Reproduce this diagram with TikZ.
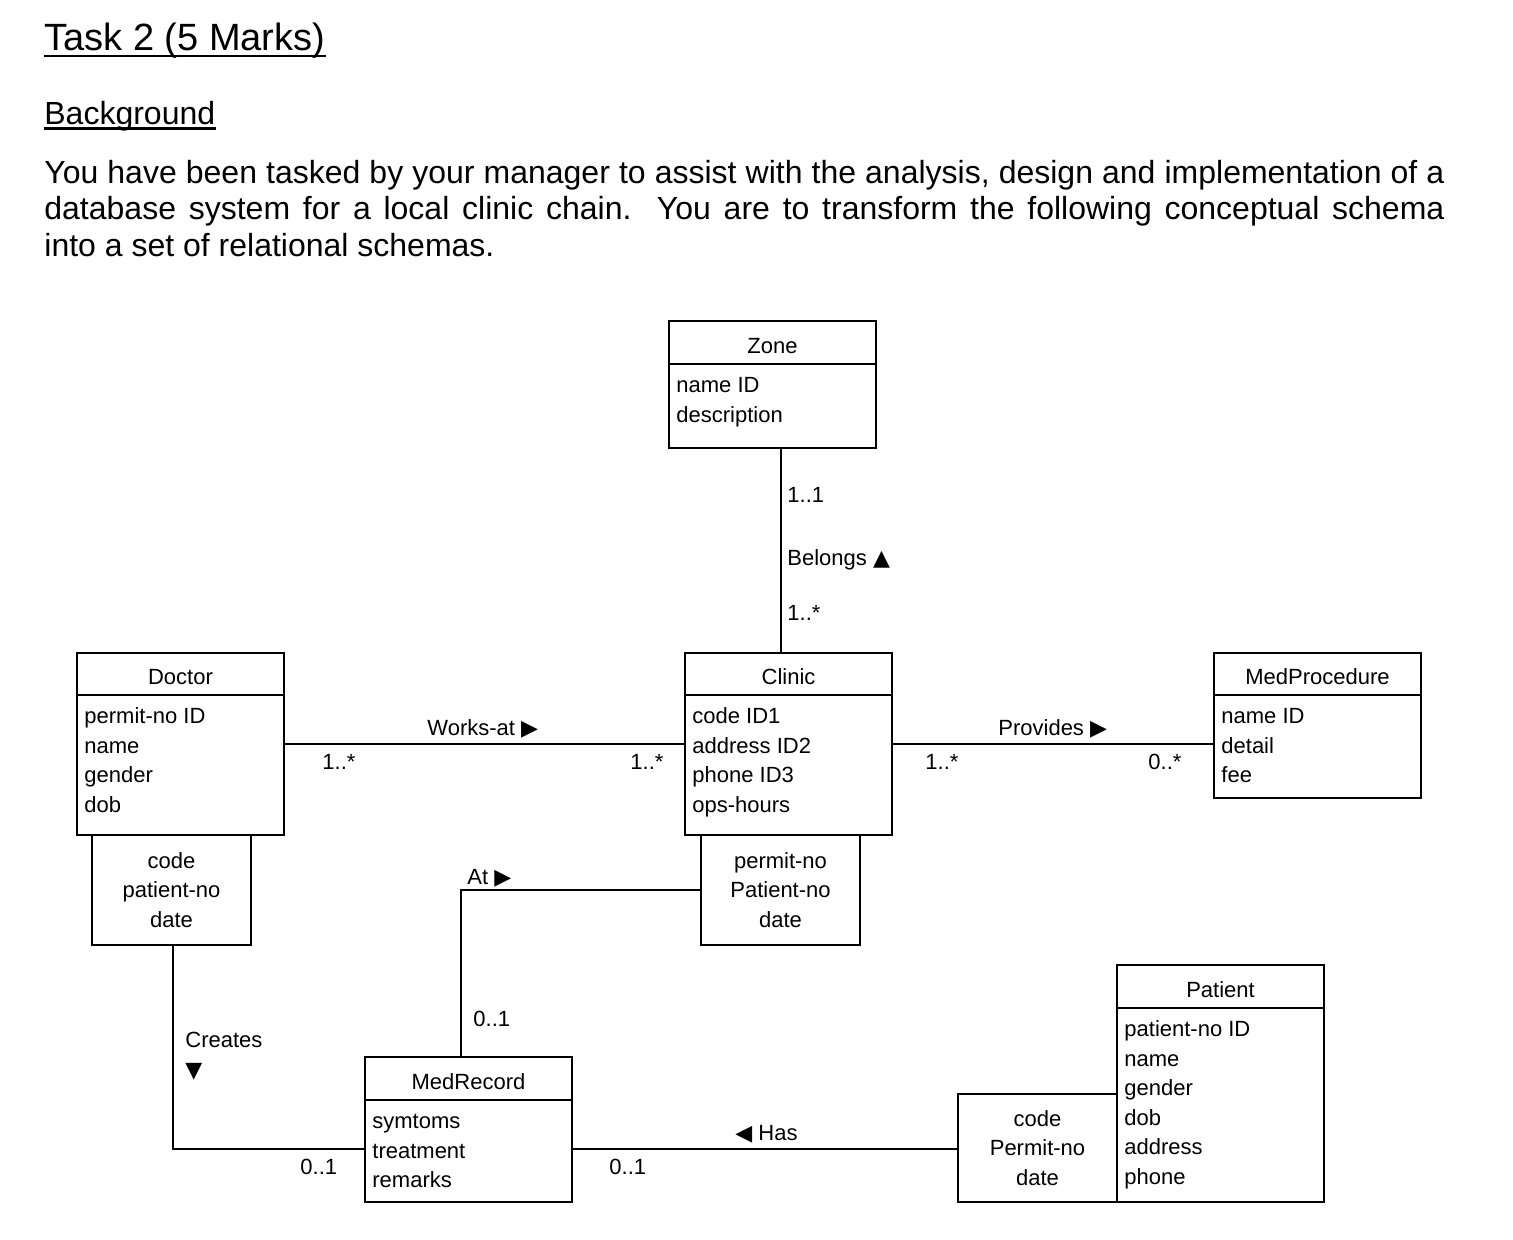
\documentclass[tikz,border=0pt]{standalone}
\usepackage{fontspec}
\setmainfont{Liberation Sans}
\newfontfamily\symf{DejaVu Sans}
\begin{document}
\begin{tikzpicture}[x=0.5pt,y=-0.5pt,
  box/.style={draw, line width=0.8pt, anchor=north west, inner sep=0pt, outer sep=0pt},
  dtext/.style={font=\fontsize{11}{14.8}\selectfont, inner sep=0pt},
  attrs/.style={dtext, align=left, anchor=north west},
  ttl/.style={dtext, anchor=base},
  lbl/.style={dtext, anchor=base west},
  assoc/.style={box, dtext, align=center},
  conn/.style={line width=0.75pt},
  divider/.style={line width=0.8pt}
]
\useasboundingbox (0,0) rectangle (1513,1239);

% ---------- header text ----------
\node[font=\fontsize{19}{22}\selectfont, inner sep=0pt, anchor=base west] (title) at (44,50) {Task 2 (5 Marks)};
\draw[line width=1.2pt] ([yshift=-3pt]title.base west) -- ([yshift=-3pt]title.base east);
\node[font=\fontsize{16}{18.25}\selectfont, inner sep=0pt, anchor=base west] (bg) at (44,124) {Background};
\draw[line width=1.1pt] ([yshift=-2.2pt]bg.base west) -- ([yshift=-2.2pt]bg.base east);
\node[font=\fontsize{16}{18.25}\selectfont, inner sep=0pt, anchor=north west, text width=700pt, align=justify] (body) at (44,157.5)
 {\strut You have been tasked by your manager to assist with the analysis, design and implementation of a\linebreak
  database system for a local clinic chain.\ \ You are to transform the following conceptual schema\linebreak
  into a set of relational schemas.};

% ---------- class boxes ----------
\node[box, minimum width=103.5pt, minimum height=63.5pt] (zone) at (669,321) {};
\draw[divider] ([yshift=-21.5pt]zone.north west) -- ([yshift=-21.5pt]zone.north east);
\node[ttl] (zonet) at (772.5,353) {Zone};
\node[attrs] (zonea) at (676,371.3) {\strut name ID\\description};

\node[box, minimum width=103.5pt, minimum height=91pt] (doctor) at (77,653) {};
\draw[divider] ([yshift=-21pt]doctor.north west) -- ([yshift=-21pt]doctor.north east);
\node[ttl] (doctort) at (180.5,684) {Doctor};
\node[attrs] (doctora) at (84,702.3) {\strut permit-no ID\\name\\gender\\dob};

\node[box, minimum width=103.5pt, minimum height=91pt] (clinic) at (685,653) {};
\draw[divider] ([yshift=-21pt]clinic.north west) -- ([yshift=-21pt]clinic.north east);
\node[ttl] (clinict) at (788.5,684) {Clinic};
\node[attrs] (clinica) at (692,702.3) {\strut code ID1\\address ID2\\phone ID3\\ops-hours};

\node[box, minimum width=103.5pt, minimum height=72.5pt] (medproc) at (1214,653) {};
\draw[divider] ([yshift=-21pt]medproc.north west) -- ([yshift=-21pt]medproc.north east);
\node[ttl] (medproct) at (1317.5,684) {MedProcedure};
\node[attrs] (medproca) at (1221,702.3) {\strut name ID\\detail\\fee};

\node[box, minimum width=103.5pt, minimum height=72.5pt] (medrec) at (365,1057) {};
\draw[divider] ([yshift=-21.5pt]medrec.north west) -- ([yshift=-21.5pt]medrec.north east);
\node[ttl] (medrect) at (468.5,1089) {MedRecord};
\node[attrs] (medreca) at (372,1107.3) {\strut symtoms\\treatment\\remarks};

\node[box, minimum width=103.5pt, minimum height=118.5pt] (patient) at (1117,965) {};
\draw[divider] ([yshift=-21.5pt]patient.north west) -- ([yshift=-21.5pt]patient.north east);
\node[ttl] (patientt) at (1220.5,997) {Patient};
\node[attrs] (patienta) at (1124,1015.3) {\strut patient-no ID\\name\\gender\\dob\\address\\phone};

% ---------- association boxes ----------
\node[assoc, minimum width=79.5pt, minimum height=55pt] (dassoc) at (92,835) {code\\patient-no\\date};
\node[assoc, minimum width=79.5pt, minimum height=55pt] (cassoc) at (701,835) {permit-no\\Patient-no\\date};
\node[assoc, minimum width=79.5pt, minimum height=54pt] (passoc) at (958,1094) {code\\Permit-no\\date};

% ---------- helper coordinates ----------
\coordinate (bx) at (781,0);
\coordinate (atx) at (461,0);
\coordinate (cx) at (173,0);
\coordinate (hy) at (0,1149);

% ---------- connectors ----------
\draw[conn] (zone.south -| bx) -- (clinic.north -| bx);
\draw[conn] (doctor.east) -- (clinic.west);
\draw[conn] (clinic.east) -- (medproc.west |- clinic.east);
\draw[conn] (cassoc.west) -| (medrec.north -| atx);
\draw[conn] (dassoc.south -| cx) |- (medrec.west |- hy);
\draw[conn] (medrec.east |- hy) -- (passoc.west |- hy);

% ---------- labels ----------
\node[lbl] (m1) at (787,502) {1..1};
\node[lbl] (belongs) at (787,565) {Belongs {\symf ▲}};
\node[lbl] (m2) at (787,620) {1..*};

\node[lbl] (worksat) at (427,735) {Works-at {\symf ▶}};
\node[lbl] (m3) at (322,769) {1..*};
\node[lbl] (m4) at (630,769) {1..*};

\node[lbl] (provides) at (998,735) {Provides {\symf ▶}};
\node[lbl] (m5) at (925,769) {1..*};
\node[lbl] (m6) at (1148,769) {0..*};

\node[lbl] (at) at (467,884) {At {\symf ▶}};
\node[lbl] (m7) at (473,1026) {0..1};

\node[dtext, align=left, anchor=north west] (creates) at (185,1026.3) {\strut Creates\\{\symf ▼}};
\node[lbl] (m8) at (300,1174) {0..1};
\node[lbl] (m9) at (609,1174) {0..1};

\node[lbl] (has) at (735,1140) {{\symf ◀} Has};
\end{tikzpicture}
\end{document}
